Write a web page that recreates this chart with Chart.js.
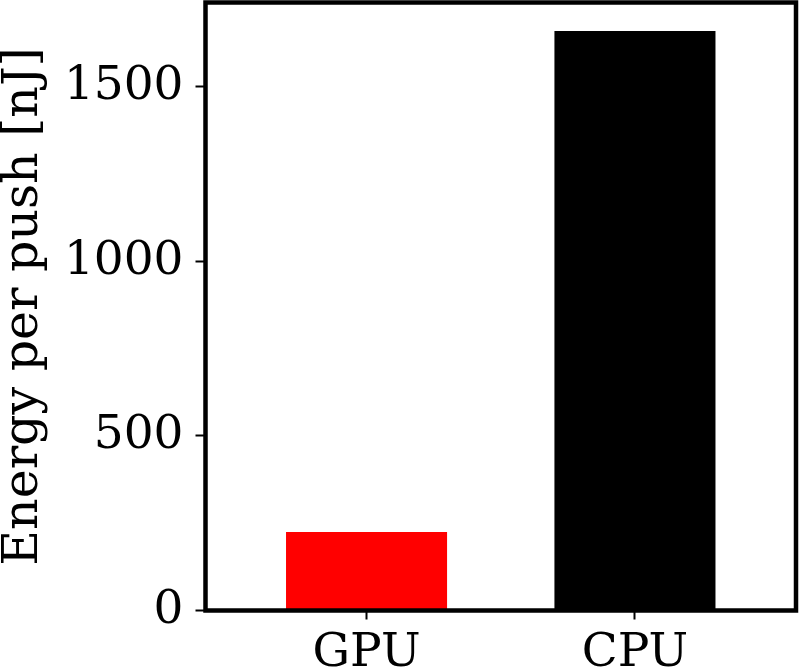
<!DOCTYPE html>
<html>
<head>
<meta charset="utf-8">
<script src="https://cdn.jsdelivr.net/npm/chart.js@4"></script>
<style>
  html, body { margin: 0; padding: 0; background: #fff; }
  canvas { display: block; }
</style>
</head>
<body>
<canvas id="energyChart" width="800" height="667"></canvas>
<script>
const categories = ["GPU", "CPU"];
const energyValues = [225, 1660];
const barColors = ["#ff0000", "#000000"];
const yTicks = [0, 500, 1000, 1500];
const yLabel = "Energy per push [nJ]";

const serif = "'DejaVu Serif', serif";

// draws the box around the plot area (matplotlib style spines)
const frame = {
  id: "frame",
  afterDatasetsDraw(chart) {
    const { ctx, chartArea: a } = chart;
    ctx.save();
    ctx.strokeStyle = "#000";
    ctx.lineWidth = 4.5;
    ctx.strokeRect(a.left, a.top, a.right - a.left, a.bottom - a.top);
    ctx.restore();
  }
};

const energyChart = new Chart(document.getElementById("energyChart"), {
  type: "bar",
  data: {
    datasets: [{
      data: energyValues.map((v, i) => ({ x: i, y: v })),
      backgroundColor: barColors,
      borderWidth: 0,
      barPercentage: 0.6,
      categoryPercentage: 1
    }]
  },
  options: {
    responsive: false,
    animation: false,
    layout: { padding: { top: 2.5, right: 4, left: 0, bottom: 0 } },
    plugins: {
      legend: { display: false },
      tooltip: { enabled: false }
    },
    scales: {
      x: {
        type: "linear",
        min: -0.6,
        max: 1.6,
        offset: false,
        afterBuildTicks: s => { s.ticks = categories.map((c, i) => ({ value: i })); },
        afterFit: s => { s.height = 56.5; s.paddingLeft = 0; s.paddingRight = 0; },
        border: { display: false },
        grid: { offset: false, drawOnChartArea: false, tickLength: 9, tickWidth: 2, tickColor: "#000" },
        ticks: {
          color: "#000",
          padding: 6,
          maxRotation: 0,
          font: { family: serif, size: 47 },
          callback: v => categories[v] ?? ""
        }
      },
      y: {
        min: 0,
        max: 1742,
        afterBuildTicks: s => { s.ticks = yTicks.map(v => ({ value: v })); },
        afterFit: s => { s.width = 205.5; s.paddingTop = 0; s.paddingBottom = 0; },
        border: { display: false },
        grid: { drawOnChartArea: false, tickLength: 10, tickWidth: 2, tickColor: "#000" },
        ticks: {
          color: "#000",
          padding: 12,
          font: { family: serif, size: 47 },
          callback: v => String(v)
        },
        title: {
          display: true,
          text: yLabel,
          color: "#000",
          padding: 0,
          font: { family: serif, size: 49, lineHeight: 1 }
        }
      }
    }
  },
  plugins: [frame]
});
</script>
</body>
</html>
